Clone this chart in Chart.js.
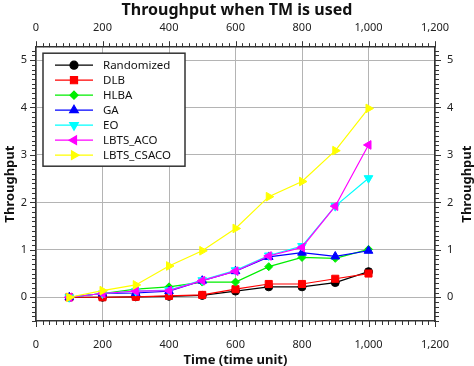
<!DOCTYPE html>
<html><head><meta charset="utf-8">
<script src="https://cdn.jsdelivr.net/npm/chart.js@4/dist/chart.umd.min.js"></script>
<style>html,body{margin:0;padding:0;background:#fff}#wrap{width:474px;height:366px}</style>
</head><body><div id="wrap"><canvas id="c" width="474" height="366"></canvas></div>
<script>
const times = [100,200,300,400,500,600,700,800,900,1000];
const randomized = [0,0,0.01,0.02,0.04,0.13,0.22,0.22,0.31,0.54];
const dlb = [0,0,0.01,0.03,0.05,0.17,0.28,0.28,0.39,0.50];
const hlba = [0,0.08,0.17,0.22,0.32,0.32,0.645,0.84,0.82,1.01];
const ga = [0,0.08,0.09,0.13,0.35,0.55,0.85,0.94,0.86,0.98];
const eo = [0,0.08,0.13,0.15,0.36,0.57,0.88,1.08,1.92,2.51];
const lbtsAco = [0,0.08,0.13,0.14,0.35,0.55,0.87,1.05,1.92,3.21];
const lbtsCsaco = [0,0.14,0.26,0.66,0.98,1.45,2.12,2.44,3.09,3.98];
const xTicks = [0,200,400,600,800,1000,1200];
const yTicks = [0,1,2,3,4,5];

const FONT = "'Noto Sans', 'Open Sans', sans-serif";
const series = [
  {label:'Randomized', data:randomized, color:'#000000', style:'circle', rot:0, r:4},
  {label:'DLB', data:dlb, color:'#ff0000', style:'rect', rot:0, r:5},
  {label:'HLBA', data:hlba, color:'#00ee00', style:'rectRot', rot:0, r:4},
  {label:'GA', data:ga, color:'#0000ff', style:'triangle', rot:0, r:5},
  {label:'EO', data:eo, color:'#00ffff', style:'triangle', rot:180, r:5},
  {label:'LBTS_ACO', data:lbtsAco, color:'#ff00ff', style:'triangle', rot:270, r:5},
  {label:'LBTS_CSACO', data:lbtsCsaco, color:'#ffff00', style:'triangle', rot:90, r:5}
];

const datasets = series.map((s,i)=>({
  label:s.label,
  data: times.map((t,j)=>({x:t,y:s.data[j]})),
  borderColor:s.color, backgroundColor:s.color,
  pointStyle:s.style, pointRotation:s.rot, pointRadius:s.r, pointHoverRadius:s.r,
  pointBorderWidth:1, borderWidth:1.2, order: series.length - i,
  xAxisID:'x', yAxisID:'y'
}));

const minorTicks = {
  id:'minorTicks',
  afterDraw(chart){
    const ctx = chart.ctx; const a = chart.chartArea;
    ctx.save(); ctx.strokeStyle = '#333'; ctx.lineWidth = 1;
    const xs = chart.scales.x;
    for(let v=0; v<=1200.001; v+=20){
      const px = Math.round(xs.getPixelForValue(v))+0.5;
      const major = Math.abs(v/200 - Math.round(v/200))<1e-6;
      const L = major?6:4;
      ctx.beginPath(); ctx.moveTo(px,a.bottom); ctx.lineTo(px,a.bottom+L); ctx.stroke();
      ctx.beginPath(); ctx.moveTo(px,a.top); ctx.lineTo(px,a.top-L); ctx.stroke();
    }
    const ys = chart.scales.y;
    for(let k=-5; k<=52; k++){
      const v = k/10;
      const py = Math.round(ys.getPixelForValue(v))+0.5;
      const major = k%10===0;
      const L = major?6:4;
      ctx.beginPath(); ctx.moveTo(a.left,py); ctx.lineTo(a.left-L,py); ctx.stroke();
      ctx.beginPath(); ctx.moveTo(a.right,py); ctx.lineTo(a.right+L,py); ctx.stroke();
    }
    // right axis title, reading bottom-to-top
    ctx.fillStyle = '#111';
    ctx.font = "bold 13px " + FONT;
    ctx.textAlign = 'center'; ctx.textBaseline = 'middle';
    ctx.translate(467, (a.top+a.bottom)/2);
    ctx.rotate(-Math.PI/2);
    ctx.fillText('Throughput', 0, 0);
    ctx.restore();
  }
};

const boxLegend = {
  id:'boxLegend',
  afterDraw(chart){
    const ctx = chart.ctx; const a = chart.chartArea;
    const bx = a.left+7, by = a.top+6, bw = 142, bh = 113;
    ctx.save();
    ctx.fillStyle = '#fff'; ctx.fillRect(bx,by,bw,bh);
    ctx.strokeStyle = '#333'; ctx.lineWidth = 1.5; ctx.strokeRect(bx,by,bw,bh);
    ctx.font = "11.5px " + FONT; ctx.textBaseline = 'middle'; ctx.textAlign='left';
    series.forEach((s,i)=>{
      const yy = by + 12 + i*15;
      ctx.strokeStyle = s.color; ctx.lineWidth = 1.2;
      ctx.beginPath(); ctx.moveTo(bx+12,yy); ctx.lineTo(bx+50,yy); ctx.stroke();
      ctx.fillStyle = s.color; ctx.strokeStyle = s.color;
      Chart.helpers.drawPoint(ctx,{pointStyle:s.style, rotation:s.rot, radius:s.r, borderWidth:1}, bx+31, yy);
      ctx.fillStyle = '#111';
      ctx.fillText(s.label, bx+60, yy+1);
    });
    ctx.restore();
  }
};

const tickFont = {family:FONT, size:11};
const titleFont = {family:FONT, size:13, weight:'bold'};
const gridCfg = {color:'#b4b4b4', lineWidth:1, drawTicks:false};
const borderCfg = {color:'#333', width:1.5};
const setX = s => { s.ticks = xTicks.map(v=>({value:v})); };
const setY = s => { s.ticks = yTicks.map(v=>({value:v})); };

new Chart(document.getElementById('c'), {
  type:'line',
  data:{datasets},
  options:{
    responsive:false, animation:false,
    layout:{padding:0},
    plugins:{
      legend:{display:false}, tooltip:{enabled:false},
      title:{display:true, text:'Throughput when TM is used', font:{family:FONT,size:16,weight:'bold'}, color:'#111', padding:{top:1,bottom:0}}
    },
    scales:{
      x:{type:'linear', position:'bottom', min:0, max:1200, afterBuildTicks:setX,
        ticks:{font:tickFont, color:'#222', padding:17, maxRotation:0},
        grid:gridCfg, border:borderCfg,
        title:{display:true, text:'Time (time unit)', font:titleFont, color:'#111', padding:{top:0,bottom:-2}},
        afterFit:s=>{s.height=45;}},
      x2:{type:'linear', position:'top', min:0, max:1200, afterBuildTicks:setX,
        ticks:{font:tickFont, color:'#222', padding:13, maxRotation:0},
        grid:{display:false, drawTicks:false}, border:borderCfg,
        afterFit:s=>{s.height=27;}},
      y:{type:'linear', position:'left', min:-0.5, max:5.27, afterBuildTicks:setY,
        ticks:{font:tickFont, color:'#222', padding:9},
        grid:gridCfg, border:borderCfg,
        title:{display:true, text:'Throughput', font:titleFont, color:'#111', padding:{top:2,bottom:0}},
        afterFit:s=>{s.width=36;}},
      y2:{type:'linear', position:'right', min:-0.5, max:5.27, afterBuildTicks:setY,
        ticks:{font:tickFont, color:'#222', padding:12},
        grid:{display:false, drawTicks:false}, border:borderCfg,
        afterFit:s=>{s.width=39;}}
    }
  },
  plugins:[minorTicks, boxLegend]
});
</script></body></html>
